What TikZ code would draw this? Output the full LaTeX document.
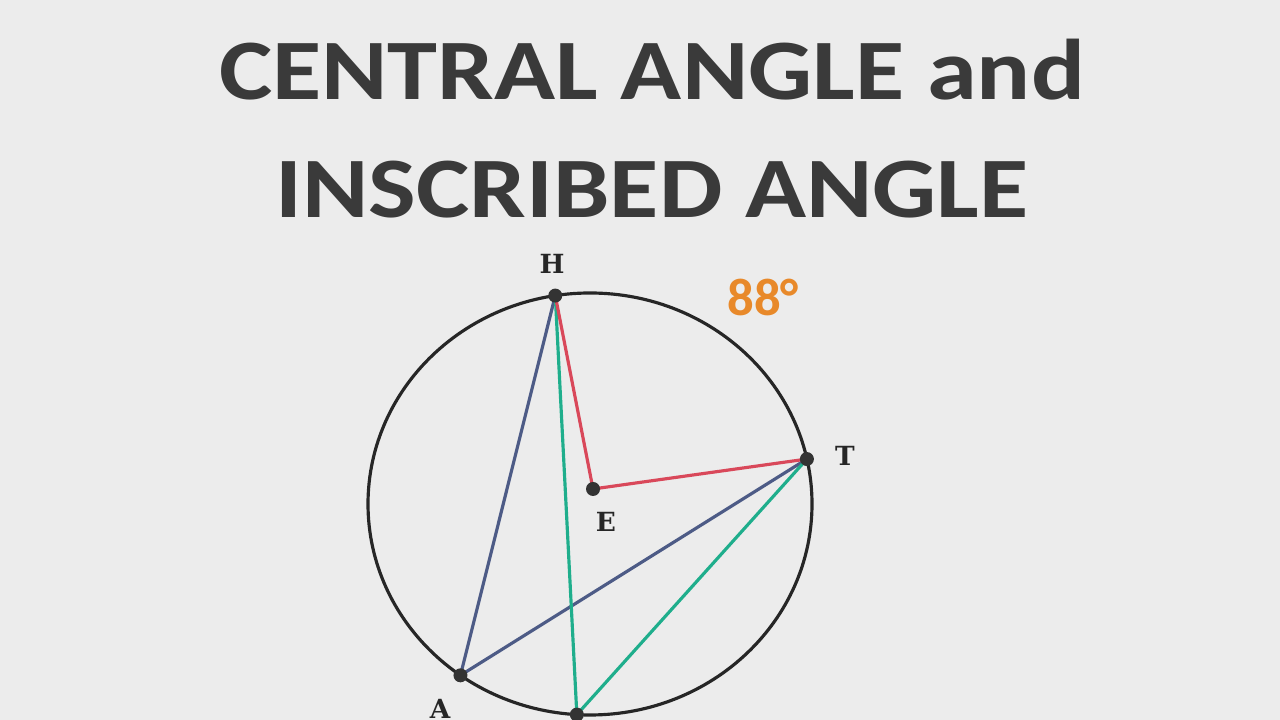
\documentclass[tikz,border=0pt]{standalone}
\usepackage{fontspec}
\usetikzlibrary{calc}
\setmainfont{Carlito}
\newfontfamily\labelfont{DejaVu Serif}
\definecolor{paper}{HTML}{ECECEC}
\definecolor{titlegray}{HTML}{3A3A3A}
\definecolor{chordblue}{HTML}{4D5B86}
\definecolor{chordgreen}{HTML}{1FAE8C}
\definecolor{radiusred}{HTML}{D9485A}
\definecolor{arcorange}{HTML}{E8892A}
\tikzset{
  dot/.style={circle,fill=black!80,inner sep=0pt,minimum size=0.14cm},
  ptlabel/.style={font=\labelfont\bfseries\fontsize{7.5}{9}\selectfont,text=black!85},
  titleline/.style={font=\bfseries\fontsize{24.5}{28}\selectfont,text=titlegray,anchor=base,xscale=1.17},
}
\begin{document}
\begin{tikzpicture}
		\useasboundingbox (0,0) rectangle (12.8,7.2);
		\fill[paper] (0,0) rectangle (12.8,7.2);
		\clip (0,0) rectangle (12.8,7.2);
		% title
		\node[titleline] (title1) at (6.52,6.20){CENTRAL ANGLE and};
		\node[titleline] (title2) at (6.52,5.02){INSCRIBED ANGLE};
		% circle and points
		\coordinate (O) at (5.90,2.16);
		\draw[line width = 0.9pt,color = black!85] (O) ellipse [x radius=2.22, y radius=2.11];
		\coordinate (H) at ($(O)+(99:2.22 and 2.11)$);
		\coordinate (T) at ($(O)+(12.3:2.22 and 2.11)$);
		\coordinate (A) at ($(O)+(234.3:2.22 and 2.11)$);
		\coordinate (B) at ($(O)+(266.6:2.22 and 2.11)$);
		\coordinate (E) at (5.93,2.31);
		\draw[line width = 0.9pt,color = chordblue](H) -- (A);
		\draw[line width = 0.9pt,color = chordblue](A) -- (T);
		\draw[line width = 0.9pt,color = chordgreen](H) -- (B);
		\draw[line width = 0.9pt,color = chordgreen](B) -- (T);
		\draw[line width = 0.9pt,color = radiusred](H) -- (E);
		\draw[line width = 0.9pt,color = radiusred](E) -- (T);
		\node[dot] (dH) at (H){};
		\node[dot] (dT) at (T){};
		\node[dot] (dE) at (E){};
		\node[dot] (dA) at (A){};
		\node[dot] (dB) at (B){};
		\node[ptlabel] (n1) at (5.52,4.56){H};
		\node[ptlabel] (n2) at (8.45,2.64){T};
		\node[ptlabel] (n3) at (6.06,1.98){E};
		\node[ptlabel] (n4) at (4.40,0.11){A};
		\node[font=\bfseries\fontsize{15}{17}\selectfont,text=arcorange] (n5) at (7.63,4.23){88°};
		\end{tikzpicture}
\end{document}
